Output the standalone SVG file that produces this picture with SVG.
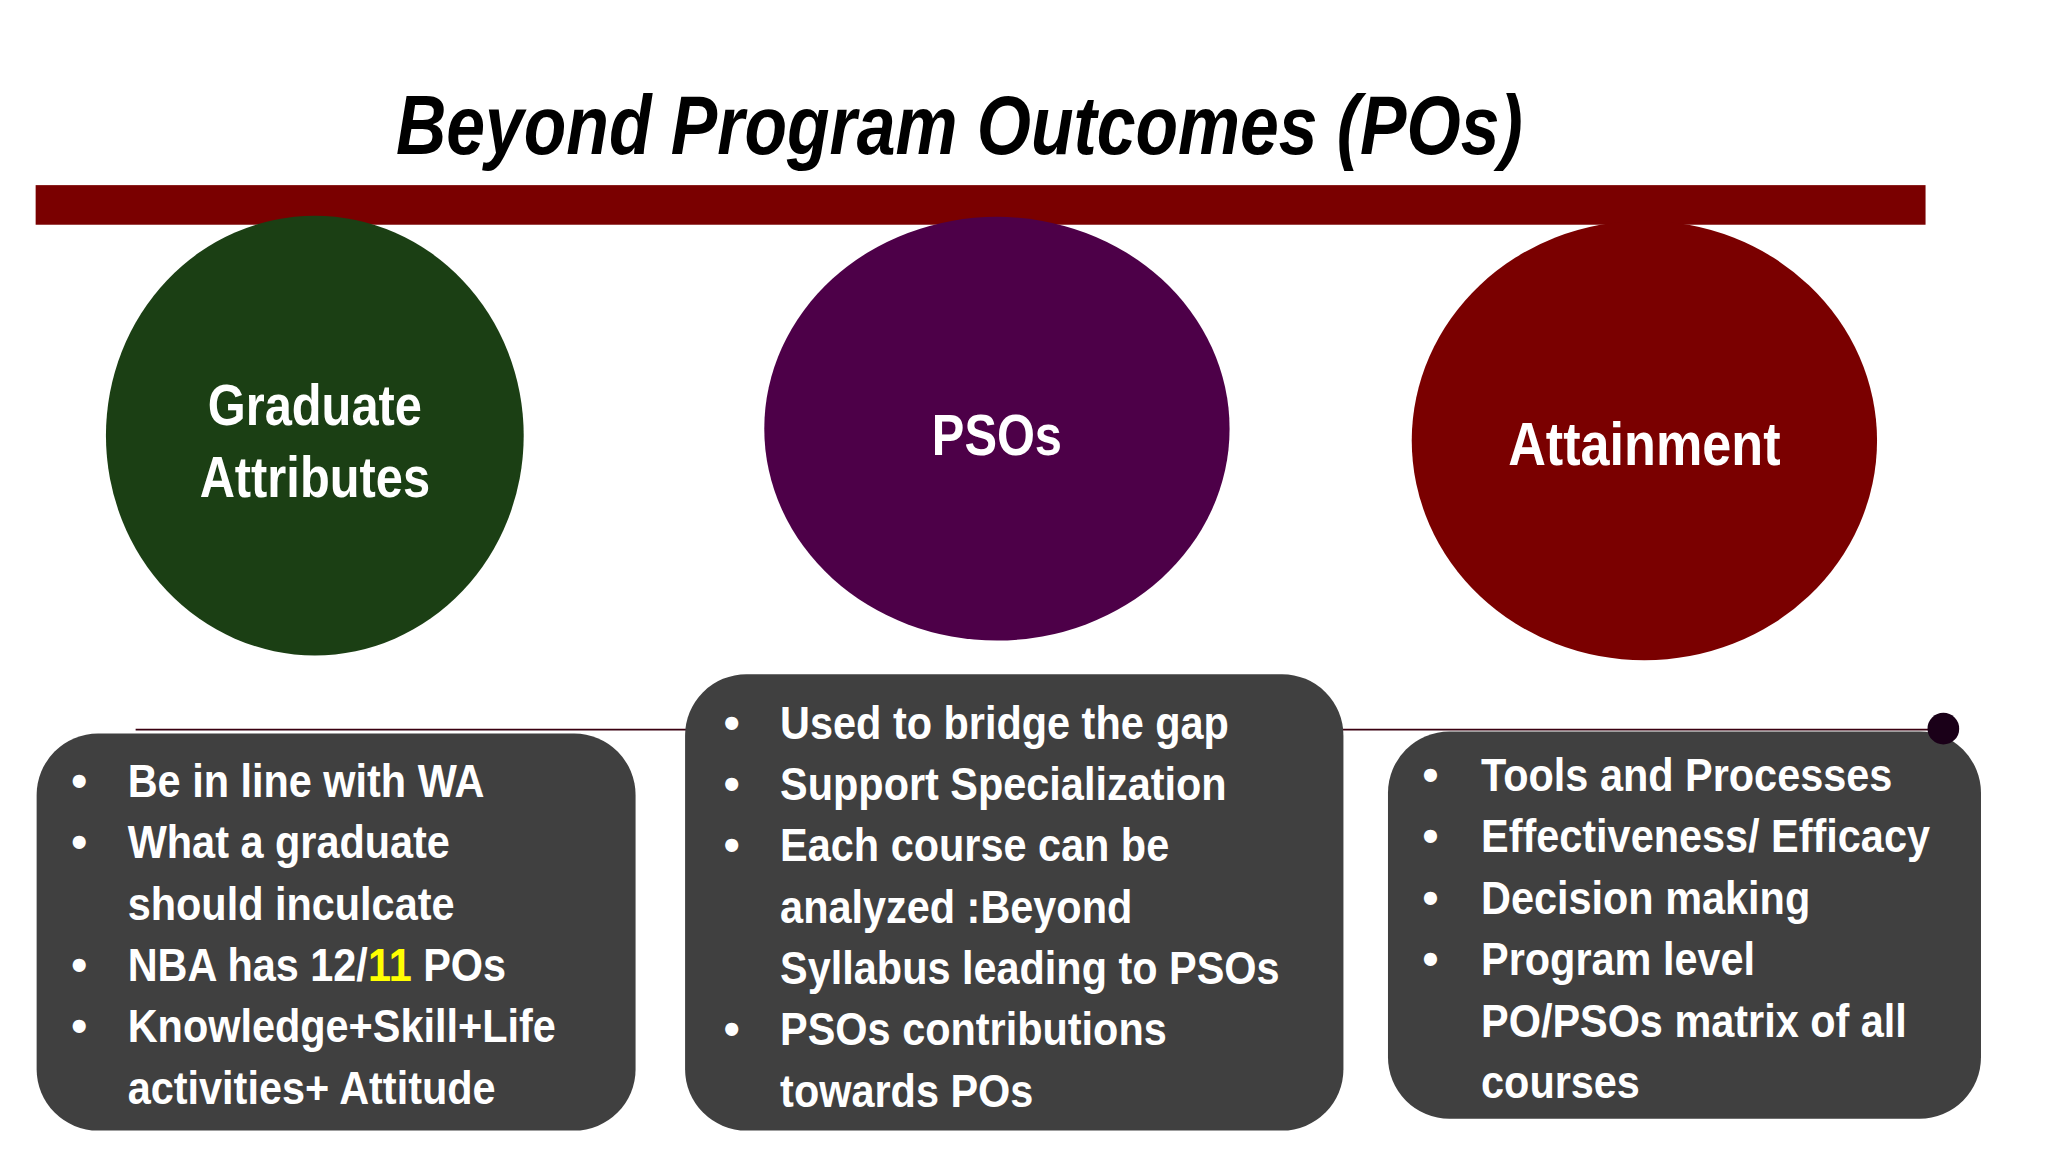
<svg xmlns="http://www.w3.org/2000/svg" width="2048" height="1152" viewBox="0 0 2048 1152">
<style>
.t{font-family:"Liberation Sans",Arial,sans-serif;font-weight:bold;fill:#fff}
.b{font-size:46px}
.c{font-size:58px;text-anchor:middle}
.box{fill:#404040}
</style>
<rect width="2048" height="1152" fill="#fff"/>
<g transform="scale(0.99)">
<text x="400" y="156" class="t" style="fill:#000;font-style:italic;font-size:84px" textLength="1138" lengthAdjust="spacingAndGlyphs">Beyond Program Outcomes (POs)</text>
<rect x="36" y="187" width="1909" height="40" fill="#7a0000"/>
<g id="connectors">
<line x1="137" y1="737" x2="1963" y2="737" stroke="#3a0010" stroke-width="2"/>
</g>
<g id="ga"><ellipse cx="318" cy="440" rx="211" ry="222" fill="#1b3f14"/>
<g transform="translate(318,0) scale(0.85,1)"><text class="t c" x="0" y="429">Graduate</text><text class="t c" x="0" y="502">Attributes</text></g></g>
<g id="pso"><ellipse cx="1007" cy="433" rx="235" ry="214" fill="#4d0048"/>
<g transform="translate(1007,0) scale(0.85,1)"><text class="t c" x="0" y="460">PSOs</text></g></g>
<g id="att"><ellipse cx="1661" cy="445" rx="235" ry="222" fill="#7a0000"/>
<g transform="translate(1661,0) scale(0.85,1)"><text class="t c" x="0" y="470" style="font-size:62px">Attainment</text></g></g>
<g id="box1"><rect class="box" x="37" y="741" width="605" height="401" rx="62"/>
<g class="t b"><text x="72" y="805">•</text><text x="72" y="867">•</text><text x="72" y="991">•</text><text x="72" y="1053">•</text></g>
<g transform="translate(129,0) scale(0.91,1)" class="t b"><text x="0" y="805">Be in line with WA</text><text x="0" y="867">What a graduate</text><text x="0" y="929">should inculcate</text><text x="0" y="991">NBA has 12/<tspan fill="#ffff00">11</tspan> POs</text><text x="0" y="1053">Knowledge+Skill+Life</text><text x="0" y="1115">activities+ Attitude</text></g></g>
<g id="box2"><rect class="box" x="692" y="681" width="665" height="461" rx="62"/>
<g class="t b"><text x="731" y="746">•</text><text x="731" y="808">•</text><text x="731" y="870">•</text><text x="731" y="1056">•</text></g>
<g transform="translate(788,0) scale(0.91,1)" class="t b"><text x="0" y="746">Used to bridge the gap</text><text x="0" y="808">Support Specialization</text><text x="0" y="870">Each course can be</text><text x="0" y="932">analyzed :Beyond</text><text x="0" y="994">Syllabus leading to PSOs</text><text x="0" y="1056">PSOs contributions</text><text x="0" y="1118">towards POs</text></g></g>
<g id="box3"><rect class="box" x="1402" y="739" width="599" height="391" rx="62"/>
<g class="t b"><text x="1437" y="799">•</text><text x="1437" y="861">•</text><text x="1437" y="923">•</text><text x="1437" y="985">•</text></g>
<g transform="translate(1496,0) scale(0.91,1)" class="t b"><text x="0" y="799">Tools and Processes</text><text x="0" y="861">Effectiveness/ Efficacy</text><text x="0" y="923">Decision making</text><text x="0" y="985">Program level</text><text x="0" y="1047">PO/PSOs matrix of all</text><text x="0" y="1109">courses</text></g></g>
<circle cx="1963" cy="736" r="16" fill="#1a0018"/>
</g>
</svg>
